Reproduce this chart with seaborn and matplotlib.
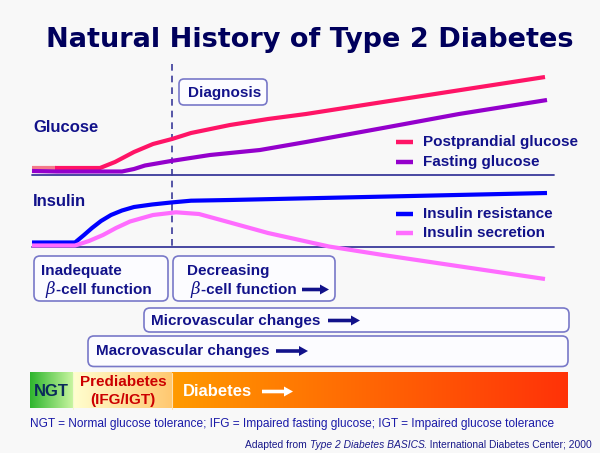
import numpy as np
import pandas as pd
import matplotlib
matplotlib.use("Agg")
import matplotlib.pyplot as plt
import seaborn as sns
from matplotlib.patches import FancyBboxPatch, FancyArrow
from matplotlib.colors import LinearSegmentedColormap

sns.set_style("white")
plt.rcParams['font.family'] = ['Liberation Sans', 'DejaVu Sans']
plt.rcParams['mathtext.fontset'] = 'dejavuserif'

# ---------------- data (in picture units) ----------------
pp_x = [55, 100, 115, 134, 153, 172, 191, 230, 268, 306, 383, 545]
pp_y = [168, 168, 162, 152, 144, 139, 133, 125, 119, 114, 102, 77]
fg_x = [32, 57, 122, 134, 145, 171, 210, 260, 306, 383, 459, 547]
fg_y = [171, 171.5, 171.5, 169, 165.5, 161, 155, 150, 142, 128, 114, 100]
ir_x = [32, 75, 84, 92, 101, 111, 122, 134, 152, 171, 191, 230, 547]
ir_y = [242.5, 242.5, 235, 228, 221, 215, 210.5, 207, 204.5, 202.5, 200.7, 200, 193]
is_x = [32, 75, 89, 103, 116, 130, 153, 176, 199, 230, 268, 329, 383, 545]
is_y = [245.5, 245.5, 241, 235, 228, 221.5, 215, 212.3, 214, 222.5, 233, 246.5, 255, 279]

series = ["Postprandial glucose", "Fasting glucose", "Insulin resistance", "Insulin secretion"]
colors = ["#ff1466", "#9400cc", "#0000ff", "#ff6cff"]

title = "Natural History of Type 2 Diabetes"
footnote = "NGT = Normal glucose tolerance; IFG = Impaired fasting glucose; IGT = Impaired glucose tolerance"
source_parts = ["Adapted from ", "Type 2 Diabetes BASICS", ". International Diabetes Center; 2000"]

NAVY = "#12128a"
LINE = "#3a3a9a"
BOXEDGE = "#7878c8"
BG = "#f8f8f8"

fig = plt.figure(figsize=(6, 4.53), dpi=100)
fig.patch.set_facecolor(BG)
ax = fig.add_axes([0, 0, 1, 1])
ax.set_facecolor(BG)
ax.set_xlim(0, 600)
ax.set_ylim(453, 0)

# title
ax.text(310, 40, title, ha='center', va='center', fontsize=19.5, fontweight='bold',
        color="#00005c", family='DejaVu Sans')

# dashed diagnosis line
ax.plot([172, 172], [64, 249], color=LINE, lw=1.2, ls=(0, (4, 3)), zorder=2)

# diagnosis box
ax.add_patch(FancyBboxPatch((179, 79), 88, 26, boxstyle="round,pad=0,rounding_size=5",
                            fc="#fcfcff", ec=BOXEDGE, lw=1.2, zorder=3))
ax.text(188, 93, "Diagnosis", ha='left', va='center', fontsize=11, fontweight='bold', color=NAVY, zorder=4)

# section labels
ax.text(33, 128, "Glucose", ha='left', va='center', fontsize=12, fontweight='bold', color=NAVY)
ax.text(33, 202, "Insulin", ha='left', va='center', fontsize=12, fontweight='bold', color=NAVY)

# baselines
ax.plot([32, 554], [175.3, 175.3], color=LINE, lw=1.3, zorder=2)
ax.plot([32, 554], [246.7, 246.7], color=LINE, lw=1.3, zorder=2)

# curves
ax.plot([32, 56], [168.3, 168.3], color="#f47a8a", lw=3, solid_capstyle='butt', zorder=3)
for xs, ys, c in zip([pp_x, fg_x, ir_x, is_x], [pp_y, fg_y, ir_y, is_y], colors):
    df = pd.DataFrame({"x": xs, "y": ys})
    sns.lineplot(data=df, x="x", y="y", sort=False, color=c, lw=3, ax=ax, zorder=4,
                 solid_capstyle='butt')

# legend keys
for (ly, lab, c) in [(141.7, series[0], colors[0]), (161.7, series[1], colors[1]),
                     (214, series[2], colors[2]), (232.7, series[3], colors[3])]:
    ax.plot([396, 413], [ly, ly], color=c, lw=3.2, solid_capstyle='butt')
    ax.text(423, ly, lab, ha='left', va='center', fontsize=11, fontweight='bold', color=NAVY)

# boxes
def rbox(x0, y0, x1, y1):
    ax.add_patch(FancyBboxPatch((x0, y0), x1 - x0, y1 - y0,
                                boxstyle="round,pad=0,rounding_size=6",
                                fc="#fcfcff", ec=BOXEDGE, lw=1.2, zorder=3))

def arrow(x0, x1, y, color=NAVY):
    ax.add_patch(FancyArrow(x0, y, x1 - x0, 0, width=3.6, head_width=10, head_length=9,
                            length_includes_head=True, color=color, lw=0, zorder=5))

rbox(34, 256, 168, 301)
ax.text(41, 271.5, "Inadequate", ha='left', va='center', fontsize=11, fontweight='bold', color=NAVY, zorder=4)
ax.text(45, 289.5, r"$\beta$", ha='left', va='center', fontsize=12, color=NAVY, zorder=4)
ax.text(56, 289.5, "-cell function", ha='left', va='center', fontsize=11, fontweight='bold', color=NAVY, zorder=4)

rbox(173, 256, 335, 301)
ax.text(187.5, 271.5, "Decreasing", ha='left', va='center', fontsize=11, fontweight='bold', color=NAVY, zorder=4)
ax.text(190, 289.5, r"$\beta$", ha='left', va='center', fontsize=12, color=NAVY, zorder=4)
ax.text(201, 289.5, "-cell function", ha='left', va='center', fontsize=11, fontweight='bold', color=NAVY, zorder=4)
arrow(302, 329, 289.5)

rbox(144, 308, 569, 332)
ax.text(151, 320.5, "Microvascular changes", ha='left', va='center', fontsize=11, fontweight='bold', color=NAVY, zorder=4)
arrow(328, 360, 320.5)

rbox(88, 336, 568, 366.5)
ax.text(96, 351, "Macrovascular changes", ha='left', va='center', fontsize=11, fontweight='bold', color=NAVY, zorder=4)
arrow(276, 308, 351)

# stage bar
def grad(x0, x1, y0, y1, c0, c1):
    cmap = LinearSegmentedColormap.from_list("g", [c0, c1])
    ax.imshow(np.linspace(0, 1, 256).reshape(1, -1), extent=(x0, x1, y1, y0),
              cmap=cmap, aspect='auto', zorder=2, interpolation='bilinear')

grad(30, 73, 372.5, 408.5, "#2eb52e", "#c8f5a0")
grad(73, 172, 372.5, 408.5, "#ffffd0", "#ffc870")
grad(172, 567.5, 372.5, 408.5, "#ff9a00", "#ff3208")
ax.plot([73, 73], [372.5, 408.5], color="#f4f8d0", lw=0.8, zorder=3)
ax.plot([172, 172], [372.5, 408.5], color="#ffe0b0", lw=0.8, zorder=3)

ax.text(51, 391.5, "NGT", ha='center', va='center', fontsize=12, fontweight='bold', color="#0a2a5a", zorder=4)
ax.text(123, 382.5, "Prediabetes", ha='center', va='center', fontsize=11, fontweight='bold', color="#cc0000", zorder=4)
ax.text(123, 400, "(IFG/IGT)", ha='center', va='center', fontsize=11, fontweight='bold', color="#cc0000", zorder=4)
ax.text(183, 391.5, "Diabetes", ha='left', va='center', fontsize=12, fontweight='bold', color="white", zorder=4)
arrow(262, 293, 391.5, color="white")

# footnotes
ax.text(30, 424.5, footnote, ha='left', va='center', fontsize=8.55, color="#1a1aa8")
s0 = ax.text(245, 444.5, source_parts[0], ha='left', va='center', fontsize=7.4, color="#1a1a8a")
s1 = ax.annotate(source_parts[1], xy=(1, 0), xycoords=s0, ha='left', va='bottom',
                 fontsize=7.4, style='italic', color="#1a1a8a")
s2 = ax.annotate(source_parts[2], xy=(1, 0), xycoords=s1, ha='left', va='bottom',
                 fontsize=7.4, color="#1a1a8a")

ax.set_xlim(0, 600)
ax.set_ylim(453, 0)
ax.axis('off')
fig.savefig("out.png", dpi=100, facecolor=fig.get_facecolor())
